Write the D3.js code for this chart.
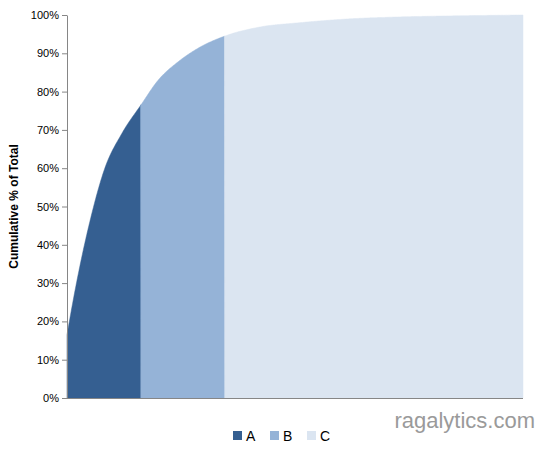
<!DOCTYPE html><html><head><meta charset="utf-8"><script src="https://cdn.jsdelivr.net/npm/d3@7"></script>
<style>body{margin:0;background:#fff}text{font-family:"Liberation Sans",Arial,sans-serif}</style></head><body><svg id="c" width="555" height="461"></svg><script>
const xs=[0,1.75,5.0,8.3,12,16.2,20,24.6,29,34.6,42,51.1,62,73,86,100];
const ys=[16.5,28,46,60,69,76.5,83,88,91.5,94.5,96.8,98,99,99.5,99.8,100];
const segments=[{name:"A",from:0,to:16.2,color:"#355f91"},{name:"B",from:16.2,to:34.6,color:"#95b3d7"},{name:"C",from:34.6,to:100,color:"#dbe5f1"}];
const ticks=[0,10,20,30,40,50,60,70,80,90,100];
const svg=d3.select("#c");
const L=67,R=523,T=15,B=398;
const x=d3.scaleLinear().domain([0,100]).range([L,R]);
const y=d3.scaleLinear().domain([0,100]).range([B,T]);
const pts=xs.map((v,i)=>[v,ys[i]]);
const fine=[];const line=d3.line().curve(d3.curveMonotoneX);
// sample the monotone curve via a path
const path=svg.append("path").attr("d",line(pts.map(p=>[x(p[0]),y(p[1])]))).attr("fill","none");
const node=path.node(),len=node.getTotalLength();
for(let i=0;i<=600;i++){const p=node.getPointAtLength(len*i/600);fine.push([p.x,p.y]);}
path.remove();
segments.forEach(s=>{
 const x0=x(s.from),x1=x(s.to);
 const top=fine.filter(p=>p[0]>=x0-0.5&&p[0]<=x1+0.5);
 const poly=[[x0,B],...top,[x1,B]];
 svg.append("path").attr("d","M"+poly.map(p=>p.join(",")).join("L")+"Z").attr("fill",s.color).attr("stroke",s.color).attr("stroke-width",0.5);
});
const ax=svg.append("g").attr("transform",`translate(${L},0)`).call(d3.axisLeft(y).tickValues(ticks).tickFormat(d=>d+"%").tickSize(5).tickSizeOuter(0));
ax.selectAll("text").attr("font-size",11).attr("fill","#000");
ax.selectAll("line,path").attr("stroke","#868686");
svg.append("line").attr("x1",L).attr("x2",R).attr("y1",B+0.5).attr("y2",B+0.5).attr("stroke","#868686");
svg.append("text").attr("transform",`translate(18,${(T+B)/2}) rotate(-90)`).attr("text-anchor","middle").attr("font-size",12).attr("font-weight","bold").text("Cumulative % of Total");
const lg=svg.append("g");
let lx=233;
segments.forEach(s=>{lg.append("rect").attr("x",lx).attr("y",431).attr("width",9).attr("height",9).attr("fill",s.color);
 lg.append("text").attr("x",lx+13).attr("y",441).attr("font-size",14).text(s.name);lx+=37;});
svg.append("text").attr("x",535).attr("y",428).attr("text-anchor","end").attr("font-size",22).attr("fill","#9a9a9a").text("ragalytics.com");
</script></body></html>
